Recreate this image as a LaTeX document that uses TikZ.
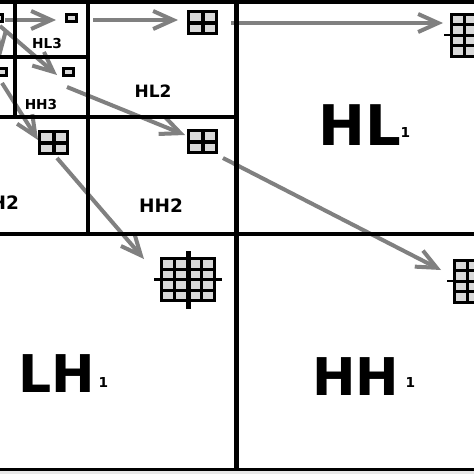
\documentclass[tikz,border=0pt]{standalone}
\usepackage{fontspec}
\setmainfont{DejaVu Sans}
\usetikzlibrary{arrows.meta}
\definecolor{argrey}{HTML}{808080}
\definecolor{cellgrey}{HTML}{D9D9D9}
\definecolor{stripgrey}{HTML}{E8E8E8}
\begin{document}
\begin{tikzpicture}[x=1pt,y=-1pt,
  gridline/.style={line width=4pt,black},
  arr/.style={argrey,line width=4pt,-{Straight Barb[length=20pt,width=18pt]}},
  lblsmall/.style={font=\bfseries\fontsize{13.7}{14}\selectfont,inner sep=0pt},
  lblmid/.style={font=\bfseries\fontsize{17}{18}\selectfont,inner sep=0pt},
  lblmidb/.style={font=\bfseries\fontsize{18.5}{19}\selectfont,inner sep=0pt},
  lblbig/.style={font=\bfseries\fontsize{52}{52}\selectfont,inner sep=0pt,anchor=base west},
  lblbigger/.style={font=\bfseries\fontsize{56}{56}\selectfont,inner sep=0pt,anchor=base west},
  lblsub/.style={font=\bfseries\fontsize{13.7}{14}\selectfont,inner sep=0pt,anchor=base west},
  icsmall/.pic={\fill[black] (-6.5,-5) rectangle (6.5,5);
    \fill[cellgrey] (-3.5,-2) rectangle (3.5,2);},
  icmid/.pic={\fill[black] (-15.5,-12.5) rectangle (15.5,12.5);
    \fill[cellgrey] (-12.5,-9.5) rectangle (-2,-2);
    \fill[cellgrey] (2,-9.5) rectangle (12.5,-2);
    \fill[cellgrey] (-12.5,2) rectangle (-2,9.5);
    \fill[cellgrey] (2,2) rectangle (12.5,9.5);},
  icbig/.pic={\fill[black] (-28,-22.5) rectangle (28,22.5);
    \foreach \cx in {-25,-11.75,1.5,14.75}{
      \foreach \cy in {-19.5,-9,1.5,12}{
        \fill[cellgrey] (\cx,\cy) rectangle ++(10.25,7.5);}}
    \draw[black,line width=2.5pt] (-34,0) -- (34,0);
    \draw[black,line width=5pt] (0,-28.5) -- (0,29.5);}
]
\useasboundingbox (0,0) rectangle (474,474);
\clip (0,0) rectangle (474,474);
\fill[white] (0,0) rectangle (474,474);
\fill[stripgrey] (0,471) rectangle (474,474);

% arrow end points
\coordinate (a1s) at (5,20);    \coordinate (a1e) at (56,20);
\coordinate (a2s) at (93,20);   \coordinate (a2e) at (178,20);
\coordinate (a3s) at (231,23);  \coordinate (a3e) at (443,23);
\coordinate (a4s) at (0,26);    \coordinate (a4e) at (57,75);
\coordinate (a5s) at (-4,24);   \coordinate (a5e) at (1,56);
\coordinate (a6s) at (2,83);    \coordinate (a6e) at (38,140);
\coordinate (a7s) at (67,87);   \coordinate (a7e) at (185,135);
\coordinate (a8s) at (57,158);  \coordinate (a8e) at (144,259);
\coordinate (a9s) at (223,158); \coordinate (a9e) at (441,270);

% arrows
\draw[arr] (a1s) -- (a1e);
\draw[arr] (a2s) -- (a2e);
\draw[arr] (a3s) -- (a3e);
\draw[arr] (a4s) -- (a4e);
\draw[arr] (a5s) -- (a5e);
\draw[arr] (a6s) -- (a6e);
\draw[arr] (a7s) -- (a7e);
\draw[arr] (a8s) -- (a8e);
\draw[arr] (a9s) -- (a9e);

% grid lines
\draw[gridline] (0,2) -- (474,2);
\draw[gridline,line width=3pt] (0,469.5) -- (474,469.5);
\draw[gridline,line width=5pt] (236.5,0) -- (236.5,470);
\draw[gridline] (0,234) -- (474,234);
\draw[gridline] (88,0) -- (88,234);
\draw[gridline] (0,117) -- (236,117);
\draw[gridline] (14.5,0) -- (14.5,117);
\draw[gridline] (0,57) -- (88,57);

% icons
\pic (sA) at (71,18) {icsmall};
\pic (sB) at (68,72) {icsmall};
\pic (sC) at (-3,18) {icsmall};
\pic (sD) at (1,72) {icsmall};
\pic (mA) at (202.5,22.5) {icmid};
\pic (mB) at (202.5,141.5) {icmid};
\pic (mC) at (53.5,142.5) {icmid};
\pic (bA) at (188,279.5) {icbig};
\pic (bB) at (478,35) {icbig};
\pic (bC) at (481,281) {icbig};

% labels
\node[lblsmall] (hl3) at (47,44) {HL3};
\node[lblsmall] (hh3) at (41,105) {HH3};
\node[lblmid] (hl2) at (153,91) {HL2};
\node[lblmidb] (hh2) at (161,206) {HH2};
\node[lblmidb] (lh2) at (-1,203) {LH2};
\node[lblbigger] (hl1) at (318,145) {HL};
\node[lblsub] (hl1s) at (400.5,137) {1};
\node[lblbig] (lh1) at (18,392) {LH};
\node[lblsub] (lh1s) at (98.5,387) {1};
\node[lblbig] (hh1) at (312,395) {HH};
\node[lblsub] (hh1s) at (405.5,387) {1};
\end{tikzpicture}
\end{document}
